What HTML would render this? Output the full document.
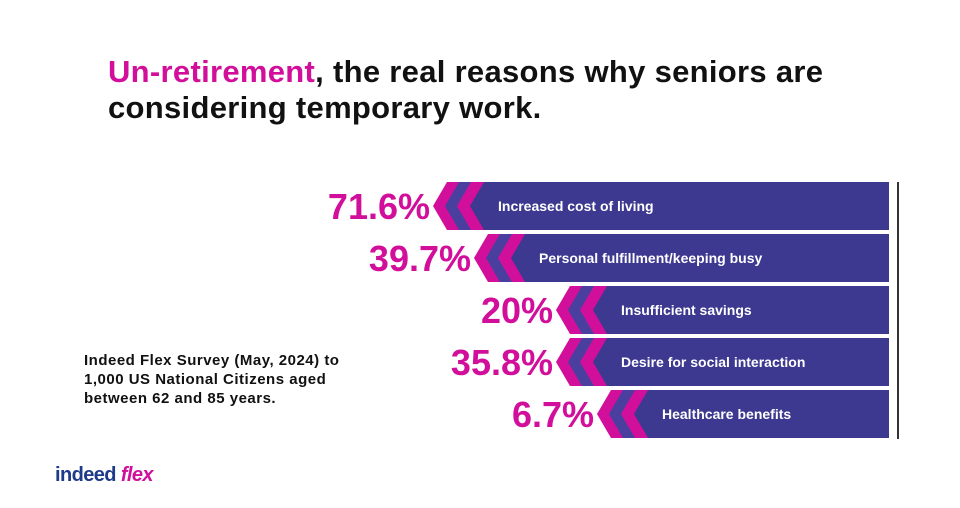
<!DOCTYPE html>
<html><head><meta charset="utf-8"><style>
body{margin:0;width:960px;height:503px;background:#fff;overflow:hidden;font-family:"Liberation Sans",sans-serif}
</style></head><body>
<svg width="960" height="503" viewBox="0 0 960 503">
<text x="108" y="82" font-size="31" font-weight="bold" fill="#111" letter-spacing="0.3"><tspan fill="#d10f9a">Un-retirement</tspan>, the real reasons why seniors are</text>
<text x="108" y="118" font-size="31" font-weight="bold" fill="#111" letter-spacing="0.3">considering temporary work.</text>
<g id="bars"></g>
<line x1="898" y1="182" x2="898" y2="439" stroke="#333" stroke-width="2"/>
<text font-size="15" font-weight="bold" fill="#111" letter-spacing="0.5"><tspan x="84" y="365">Indeed Flex Survey (May, 2024) to</tspan><tspan x="84" y="384">1,000 US National Citizens aged</tspan><tspan x="84" y="403">between 62 and 85 years.</tspan></text>
<text x="55" y="481" font-size="20" font-weight="bold" fill="#1e3a8a" letter-spacing="-0.6">indeed <tspan fill="#d10f9a" font-style="italic">flex</tspan></text>
</svg>
<script>
const categories=["Increased cost of living","Personal fulfillment/keeping busy","Insufficient savings","Desire for social interaction","Healthcare benefits"];
const values=[71.6,39.7,20,35.8,6.7];
const valueLabels=["71.6%","39.7%","20%","35.8%","6.7%"];
const levels=[0,1,3,3,4];
const NS="http://www.w3.org/2000/svg";
const g=document.getElementById('bars');
const right=889,top0=182,rowH=52,h=48,step=41,x0=433,depth=14;
function chev(x,y,fill){const p=document.createElementNS(NS,'polygon');
p.setAttribute('points',`${x+depth},${y} ${right},${y} ${right},${y+h} ${x+depth},${y+h} ${x},${y+h/2}`);
p.setAttribute('fill',fill);return p;}
categories.forEach((c,i)=>{
 const y=top0+i*rowH, x=x0+levels[i]*step;
 const grp=document.createElementNS(NS,'g');
 
 
 [[0,'#d10f9a'],[12,'#4a3f9e'],[24,'#d10f9a'],[37,'#3d3890']].forEach(([o,f])=>grp.appendChild(chev(x+o,y,f)));
 const t=document.createElementNS(NS,'text');
 t.setAttribute('x',x+65);t.setAttribute('y',y+h/2+5);t.setAttribute('font-size','14');t.setAttribute('font-weight','bold');t.setAttribute('fill','#fff');
 t.textContent=c;
 
 
 grp.appendChild(t);
 const v=document.createElementNS(NS,'text');
 v.setAttribute('x',x-3);v.setAttribute('y',y+h/2+13);v.setAttribute('font-size','36');v.setAttribute('font-weight','bold');v.setAttribute('fill','#d10f9a');v.setAttribute('text-anchor','end');
 v.textContent=valueLabels[i]||(values[i]+'%');
 
 
 grp.appendChild(v);
 g.appendChild(grp);
});
</script>
</body></html>
